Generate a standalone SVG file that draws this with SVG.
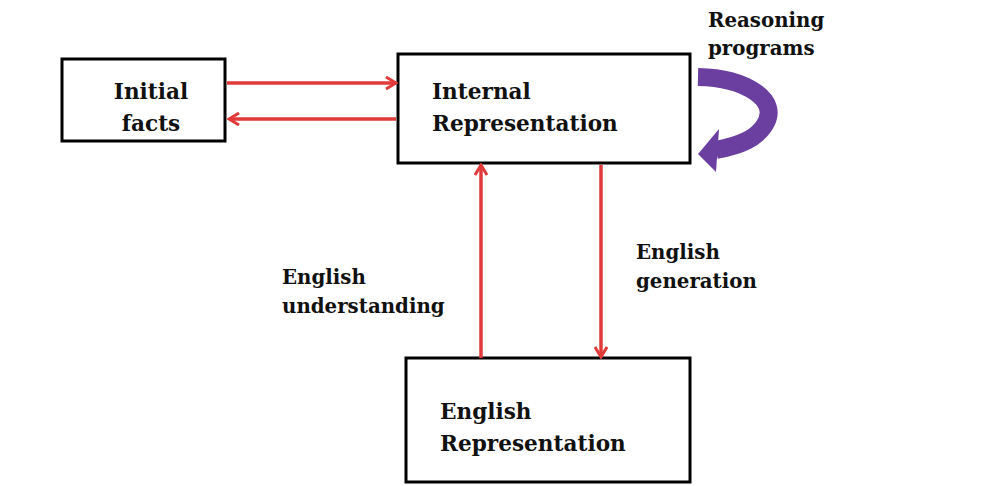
<svg xmlns="http://www.w3.org/2000/svg" width="989" height="486" viewBox="0 0 989 486">
<defs>
<style>
.box{fill:#fff;stroke:#000;stroke-width:3}
.t{font-family:"DejaVu Serif","Liberation Serif",serif;font-weight:bold;font-size:21.6px;fill:#111}
.l{font-family:"DejaVu Serif","Liberation Serif",serif;font-weight:bold;font-size:19.8px;fill:#111}
.c{fill:none;stroke:#e03a3a;stroke-width:3.5}
</style>
<marker id="ah" viewBox="0 0 14 14" refX="12" refY="7" markerWidth="14" markerHeight="14" markerUnits="userSpaceOnUse" orient="auto">
<path d="M2,1 L12,7 L2,13" fill="none" stroke="#e03a3a" stroke-width="3"/>
</marker>
</defs>
<rect width="989" height="486" fill="#fff"/>
<g id="initial">
<rect class="box" x="62" y="59" width="163" height="82"/>
<text class="t" x="151" y="99" text-anchor="middle">Initial</text>
<text class="t" x="151" y="131" text-anchor="middle">facts</text>
</g>
<g id="internal">
<rect class="box" x="398" y="54" width="292" height="109"/>
<text class="t" x="432" y="99">Internal</text>
<text class="t" x="432" y="131">Representation</text>
</g>
<g id="english">
<rect class="box" x="406" y="358" width="284" height="124"/>
<text class="t" x="440" y="419">English</text>
<text class="t" x="440" y="451">Representation</text>
</g>
<g id="reasoning">
<path d="M698,77 C745,78 782,100 764,126 C756,138 742,145 716,150" fill="none" stroke="#6a3fa0" stroke-width="18"/>
<polygon points="698,154 719,129 716,172" fill="#6a3fa0"/>
<text class="l" x="708" y="27">Reasoning</text>
<text class="l" x="708" y="55">programs</text>
</g>
<g id="connectors">
<line class="c" x1="227" y1="83" x2="396" y2="83" marker-end="url(#ah)"/>
<line class="c" x1="396" y1="119" x2="229" y2="119" marker-end="url(#ah)"/>
<line class="c" x1="481" y1="358" x2="481" y2="165" marker-end="url(#ah)"/>
<line class="c" x1="601" y1="165" x2="601" y2="357" marker-end="url(#ah)"/>
<text class="l" x="636" y="259">English</text>
<text class="l" x="636" y="288">generation</text>
<text class="l" x="282" y="284">English</text>
<text class="l" x="282" y="313">understanding</text>
</g>
</svg>
